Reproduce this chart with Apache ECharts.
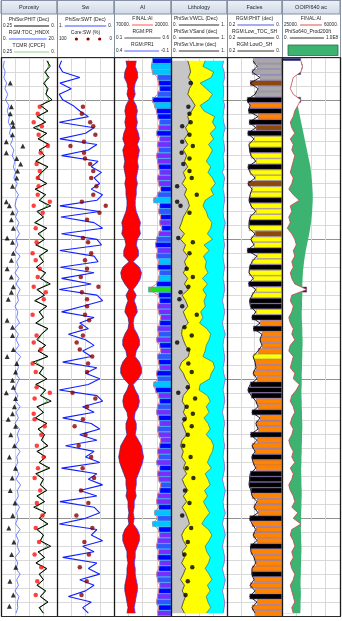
<!DOCTYPE html>
<html>
<head>
<meta charset="utf-8">
<script src="https://cdn.jsdelivr.net/npm/echarts@6/dist/echarts.min.js"></script>
<style>
html, body { margin: 0; padding: 0; background: #fff; }
#chart { width: 342px; height: 621px; }
</style>
</head>
<body>
<div id="chart"></div>
<script>
// ---- Depth sampling (ft), 2 ft steps ----
const DEPTH_TOP = 6535, DEPTH_BASE = 6735;
const depth = [
  6536,6538,6540,6542,6544,6546,6548,6550,6552,6554,
  6556,6558,6560,6562,6564,6566,6568,6570,6572,6574,
  6576,6578,6580,6582,6584,6586,6588,6590,6592,6594,
  6596,6598,6600,6602,6604,6606,6608,6610,6612,6614,
  6616,6618,6620,6622,6624,6626,6628,6630,6632,6634,
  6636,6638,6640,6642,6644,6646,6648,6650,6652,6654,
  6656,6658,6660,6662,6664,6666,6668,6670,6672,6674,
  6676,6678,6680,6682,6684,6686,6688,6690,6692,6694,
  6696,6698,6700,6702,6704,6706,6708,6710,6712,6714,
  6716,6718,6720,6722,6724,6726,6728,6730,6732,6734
];

const trackTitles = ['Porosity', 'Sw', 'AI', 'Lithology', 'Facies', 'OOIP/640 ac'];

// ---- Porosity track ----
const phit = [
  .045,.030,.055,.035,.060,.040,.050,.022,.075,.040,
  .090,.050,.105,.045,.085,.035,.080,.055,.095,.040,
  .070,.090,.045,.098,.050,.080,.028,.090,.060,.100,
  .045,.085,.055,.095,.040,.080,.060,.092,.050,.075,
  .030,.090,.055,.100,.045,.080,.060,.095,.040,.070,
  .090,.050,.085,.040,.108,.060,.080,.045,.095,.050,
  .075,.026,.090,.060,.097,.045,.085,.055,.070,.040,
  .090,.050,.080,.032,.095,.060,.075,.045,.090,.055,
  .104,.050,.080,.040,.090,.060,.075,.028,.085,.055,
  .094,.045,.080,.060,.090,.050,.075,.040,.080,.060
];
const tcmr = [
  .040,.038,.050,.042,.055,.045,.048,.036,.068,.046,
  .082,.055,.092,.050,.078,.042,.072,.058,.088,.046,
  .066,.084,.050,.092,.056,.074,.042,.084,.062,.094,
  .050,.078,.058,.088,.046,.074,.062,.092,.054,.070,
  .042,.084,.058,.094,.050,.076,.062,.088,.046,.068,
  .084,.054,.080,.046,.094,.062,.076,.050,.088,.054,
  .070,.042,.084,.062,.094,.050,.080,.058,.068,.046,
  .084,.054,.076,.042,.088,.062,.072,.050,.084,.058,
  .094,.054,.076,.046,.084,.062,.072,.042,.080,.058,
  .094,.050,.076,.062,.084,.054,.072,.046,.076,.062
];
const toc = [
  1.2,0.8,1.5,1.0,2.0,1.4,2.4,1.6,2.8,2.2,
  3.0,2.6,3.6,3.0,4.2,3.4,4.6,4.0,5.0,4.4,
  5.2,4.6,5.8,5.0,6.2,5.4,5.0,6.0,5.2,6.4,
  5.6,6.6,5.4,6.0,5.0,6.8,5.6,6.2,5.0,6.4,
  5.4,6.8,5.8,6.2,5.0,6.0,5.6,6.6,4.8,6.2,
  5.4,6.4,5.0,7.0,5.8,6.2,5.2,6.6,5.6,4.8,
  6.0,5.2,6.8,5.4,6.2,5.0,6.6,5.8,6.4,5.2,
  6.8,5.6,6.0,5.0,6.4,5.4,7.0,5.8,6.2,5.2,
  6.6,5.6,6.0,5.2,6.8,5.4,6.2,5.8,6.6,5.0,
  6.0,5.4,6.8,5.6,6.2,5.0,6.4,5.8,6.0,5.4
];

// ---- Sw track ----
const swt = [
  0.92,0.96,0.90,0.60,0.95,0.75,0.96,0.90,0.72,0.60,
  0.45,0.96,0.35,0.50,0.95,0.30,0.45,0.92,0.28,0.40,
  0.22,0.35,0.25,0.40,0.20,0.30,0.95,0.25,0.93,0.35,
  0.20,0.92,0.30,0.22,0.95,0.35,0.28,0.94,0.35,0.92,
  0.40,0.96,0.30,0.20,0.55,0.92,0.35,0.60,0.45,0.80,
  0.50,0.35,0.55,0.40,0.90,0.30,0.50,0.25,0.45,0.96,
  0.30,0.20,0.55,0.35,0.90,0.40,0.25,0.60,0.30,0.85,
  0.35,0.50,0.25,0.92,0.30,0.45,0.20,0.60,0.30,0.95,
  0.35,0.25,0.50,0.96,0.30,0.40,0.20,0.55,0.35,0.90,
  0.30,0.45,0.25,0.60,0.35,0.50,0.80,0.40,0.55,0.45
];

// ---- AI track ----
const ai = [
  36400,37300,36400,31800,30900,30000,31800,36400,34550,32700,
  31800,30000,30900,32700,30000,31800,30900,32700,31800,30900,
  30000,31800,30900,29100,31800,35450,30000,30900,29100,30000,
  28200,30900,32700,33650,31800,32700,30900,31800,30000,30900,
  32700,40000,30900,30000,31800,30900,29100,30000,31800,30900,
  32700,30000,29100,31800,30900,30000,32700,31800,35450,33650,
  30900,30000,31800,32700,30900,30000,31800,30900,29100,30000,
  31800,30900,32700,30000,31800,30900,29100,30000,31800,32700,
  30900,34550,31800,36400,30900,30000,31800,32700,30900,31800,
  30000,30900,32700,31800,30000,30900,31800,32700,30900,31800
];
const pr = [
  .205,.214,.195,.191,.214,.223,.214,.232,.205,.195,
  .205,.195,.205,.186,.177,.195,.177,.186,.195,.186,
  .195,.205,.195,.205,.205,.214,.214,.205,.186,.168,
  .177,.168,.195,.205,.186,.186,.232,.177,.159,.168,
  .195,.232,.205,.223,.205,.195,.223,.232,.223,.195,
  .177,.177,.205,.214,.177,.159,.159,.186,.232,.214,
  .186,.177,.186,.214,.223,.205,.205,.214,.186,.159,
  .150,.141,.150,.168,.186,.205,.205,.214,.205,.223,
  .223,.232,.223,.232,.195,.177,.177,.195,.214,.214,
  .223,.214,.214,.205,.195,.195,.205,.214,.223,.214
];
// elastic zone class per sample: 0 blue, 1 royal, 2 violet, 3 cyan, 4 green
const aiZone = [
  0,3,3,1,0,0,1,0,3,0,
  0,1,2,0,2,2,1,2,2,0,
  2,2,2,0,1,3,0,1,0,2,
  0,2,1,0,2,1,3,0,1,3,
  0,4,0,0,2,2,2,0,2,1,
  2,0,2,1,0,2,0,1,3,0,
  2,0,1,2,0,2,1,2,2,0,
  2,1,2,0,2,2,1,0,2,2,
  0,3,1,3,0,2,2,1,2,0,
  2,0,2,1,2,0,2,1,0,2
];

// ---- Lithology track (volume fractions) ----
const vwcl = [
  .30,.33,.35,.31,.39,.33,.30,.37,.43,.37,
  .30,.33,.26,.31,.24,.30,.22,.28,.24,.30,
  .22,.26,.20,.28,.24,.30,.33,.28,.22,.19,
  .15,.24,.17,.26,.22,.30,.24,.28,.22,.30,
  .24,.31,.20,.26,.30,.22,.26,.31,.20,.19,
  .22,.26,.33,.31,.19,.15,.22,.26,.33,.30,
  .22,.20,.26,.22,.28,.20,.24,.28,.20,.17,
  .22,.19,.26,.22,.28,.20,.24,.30,.22,.28,
  .20,.26,.30,.33,.24,.19,.22,.28,.20,.24,
  .19,.26,.22,.17,.24,.20,.26,.22,.19,.24
];
const vsand = [
  .31,.24,.41,.41,.13,.30,.44,.30,.09,.22,
  .48,.41,.54,.39,.52,.37,.52,.41,.39,.41,
  .44,.48,.59,.43,.52,.31,.24,.35,.44,.54,
  .56,.41,.57,.33,.46,.28,.39,.33,.44,.26,
  .41,.26,.43,.33,.31,.31,.31,.20,.44,.52,
  .46,.37,.28,.26,.56,.63,.50,.43,.19,.20,
  .43,.50,.37,.46,.31,.46,.46,.35,.52,.59,
  .52,.50,.39,.50,.33,.46,.46,.30,.43,.30,
  .43,.43,.31,.22,.43,.54,.46,.33,.44,.46,
  .48,.35,.46,.56,.41,.50,.37,.44,.52,.39
];
const vlime = [
  .33,.35,.19,.24,.41,.31,.20,.26,.44,.35,
  .15,.20,.17,.24,.17,.28,.22,.24,.31,.24,
  .26,.22,.15,.22,.19,.35,.37,.30,.28,.24,
  .24,.28,.20,.37,.26,.35,.31,.35,.28,.37,
  .30,.39,.31,.33,.33,.43,.37,.41,.30,.26,
  .26,.30,.33,.39,.20,.15,.22,.28,.43,.43,
  .30,.26,.31,.24,.35,.30,.24,.30,.22,.20,
  .20,.24,.30,.24,.33,.26,.24,.37,.30,.35,
  .31,.28,.33,.37,.28,.24,.26,.31,.30,.26,
  .28,.31,.26,.24,.30,.22,.31,.30,.24,.30
];

// ---- Facies track ----
const phitF = [
  .105,.091,.109,.080,.116,.087,.098,.127,.116,.122,
  .087,.120,.095,.125,.102,.120,.118,.113,.095,.124,
  .116,.098,.124,.109,.116,.120,.113,.095,.116,.120,
  .120,.098,.113,.102,.127,.091,.109,.118,.120,.105,
  .122,.095,.109,.118,.115,.095,.110,.080,.105,.073,
  .080,.073,.087,.105,.098,.095,.105,.091,.116,.124,
  .112,.095,.087,.110,.080,.095,.087,.115,.091,.109,
  .098,.110,.105,.095,.116,.118,.120,.113,.109,.091,
  .102,.087,.118,.109,.095,.105,.091,.115,.113,.102,
  .095,.109,.110,.102,.116,.098,.118,.091,.109,.098
];
// facies code: 0 shale (black), 1 tight (grey), 2 silty (brown), 3 organic sand (orange), 4 clean sand (yellow)
const facies = [
  1,1,1,1,2,1,1,0,3,0,
  3,0,2,0,4,4,0,4,4,0,
  4,4,2,4,4,0,4,4,4,0,
  4,2,4,4,0,4,4,0,4,4,
  0,4,4,0,0,4,0,3,0,3,
  3,3,3,4,3,3,3,3,0,0,
  0,3,3,0,3,3,3,0,3,3,
  3,0,3,3,0,0,0,0,3,3,
  3,3,0,3,3,3,3,0,3,3,
  3,3,0,3,3,3,0,3,3,3
];

// ---- OOIP track ----
const prod = [
  5e6,5e6,5e6,5e6,5e6,5e6,5e6,2.4e7,2.7e7,2.9e7,
  3.1e7,3.3e7,3.5e7,3.7e7,3.9e7,4.1e7,4.3e7,4.5e7,4.7e7,4.9e7,
  5.0e7,5.1e7,5.2e7,5.25e7,5.3e7,5.3e7,5.25e7,5.2e7,5.1e7,5.0e7,
  4.85e7,4.7e7,4.5e7,4.3e7,4.1e7,3.95e7,3.8e7,3.7e7,3.6e7,3.55e7,
  3.5e7,3.5e7,3.5e7,3.45e7,3.45e7,3.4e7,3.4e7,3.45e7,3.5e7,3.5e7,
  3.55e7,3.55e7,3.5e7,3.5e7,3.45e7,3.45e7,3.4e7,3.4e7,3.4e7,3.35e7,
  3.35e7,3.4e7,3.4e7,3.45e7,3.45e7,3.5e7,3.5e7,3.45e7,3.45e7,3.4e7,
  3.4e7,3.35e7,3.35e7,3.3e7,3.3e7,3.35e7,3.35e7,3.4e7,3.4e7,3.35e7,
  3.35e7,3.3e7,3.3e7,3.25e7,3.25e7,3.3e7,3.3e7,3.35e7,3.35e7,3.3e7,
  3.3e7,3.25e7,3.25e7,3.2e7,3.2e7,3.25e7,3.25e7,3.2e7,3.2e7,3.15e7
];

// ---- Core samples ----
const coreDepth = [
  6544.0,6552.5,6555.0,6558.0,6559.5,6562.5,6565.0,6566.5,6569.0,6571.0,
  6573.0,6575.5,6578.0,6581.0,6584.0,6586.5,6588.0,6590.5,6593.0,6596.0,
  6599.5,6601.0,6605.0,6607.5,6610.5,6613.5,6617.0,6619.0,6621.5,6624.0,
  6627.0,6629.0,6631.5,6634.5,6637.0,6639.5,6642.0,6644.5,6647.5,6650.5,
  6653.0,6655.0,6657.0,6660.0,6662.5,6664.5,6667.0,6670.0,6674.0,6678.0,
  6682.0,6685.5,6690.0,6694.5,6699.0,6703.5,6708.5,6713.0,6717.5,6722.5,
  6727.5,6731.5
];
const corePhi = [
  null,.077,.086,.104,.068,.082,null,.041,.073,null,
  .091,.077,.086,.082,.086,.032,.104,.064,null,.095,
  null,.091,.109,.095,.077,.086,.104,.050,.059,null,
  .109,null,null,.091,.104,.073,null,.109,.095,null,
  .091,.032,.100,null,.104,.100,.055,.070,.090,.060,
  .085,.100,.075,.090,.065,.095,.080,.100,.070,.088,
  .095,null
];
const coreToc = [
  3.3,3.7,3.3,4.1,4.4,4.1,1.9,7.8,1.9,5.6,
  7.0,5.9,5.6,4.1,null,1.9,3.0,4.1,3.7,4.4,
  2.2,4.1,4.4,3.7,2.2,3.7,4.4,3.7,2.6,null,
  null,2.2,4.1,4.1,null,4.4,2.2,5.6,5.2,4.1,
  4.4,1.9,5.2,4.8,4.1,2.6,5.2,3.5,4.8,3.0,
  5.2,4.0,3.3,5.0,4.2,2.8,4.6,3.8,5.3,3.2,
  4.4,3.0
];
const coreSw = [
  null,54.5,56.4,41.8,36.4,32.7,52.7,76.4,52.7,50.9,
  41.8,36.4,40.0,30.9,36.4,56.4,14.5,25.5,47.3,null,
  54.5,45.5,40.0,50.9,47.3,58.2,27.3,56.4,47.3,47.3,
  50.9,43.6,58.2,54.5,65.5,60.0,38.2,45.5,47.3,null,
  null,72.7,32.7,47.3,null,54.5,69.1,50,62,40,
  55,35,58,45,66,38,52,44,60,48,
  57,null
];
const coreVcl = [
  .35,.31,.33,.35,.20,.33,.20,.39,.19,.33,
  .22,.33,.37,.11,.46,.11,.17,.33,null,null,
  .13,.39,.33,null,.28,.39,.31,.17,.15,.20,
  .46,null,.24,.37,.11,.31,null,.31,.37,null,
  .30,.13,.43,.28,.39,.24,.37,.30,.22,.35,
  .28,.40,.25,.33,.20,.36,.30,.24,.38,.30,
  .26,null
];

// ---- Layout and styling ----
const TRACKS = [
  { x: 1, w: 56 }, { x: 57, w: 57 }, { x: 114, w: 57 },
  { x: 171, w: 56 }, { x: 227, w: 55 }, { x: 282, w: 58 }
];
const PLOT_TOP = 58, PLOT_H = 558;
const FONT = 'Liberation Sans';
const ZONE_COLORS = ['#0000ff', '#3355ff', '#7a2cff', '#00c4ff', '#22dd22'];
const FACIES_COLORS = ['#000000', '#a8a8a8', '#8b4a0a', '#ff8400', '#ffff00'];
const AI_NAVY_CUT = 36000;
const MINOR = '#d9d9d9', MAJOR = '#939393';

const option = {
  animation: false,
  backgroundColor: '#ffffff',
  grid: TRACKS.map(t => ({ left: t.x, top: PLOT_TOP, width: t.w, height: PLOT_H, show: false })),
  xAxis: [],
  yAxis: [],
  series: [],
  graphic: { elements: [] }
};

// y axes: a category axis for sampled curves, a depth axis for core points and grid lines
TRACKS.forEach((t, g) => {
  option.yAxis.push({
    type: 'category', gridIndex: g, data: depth, inverse: true, show: false, boundaryGap: true
  });
  option.yAxis.push({
    type: 'value', gridIndex: g, min: DEPTH_TOP, max: DEPTH_BASE, interval: 5, inverse: true,
    axisLine: { show: false }, axisTick: { show: false }, axisLabel: { show: false },
    splitLine: { show: true, lineStyle: { width: 1,
      color: [MINOR, MINOR, MINOR, MAJOR, MINOR, MINOR, MINOR, MINOR, MINOR, MINOR] } }
  });
  // vertical grid lines of the track
  option.xAxis.push({
    type: 'value', gridIndex: g, min: 0, max: 4, interval: 1,
    axisLine: { show: false }, axisTick: { show: false }, axisLabel: { show: false },
    splitLine: { show: true, lineStyle: { color: MINOR, width: 1 } }
  });
});

function addX(g, opts) {
  option.xAxis.push(Object.assign({ type: 'value', gridIndex: g, show: false }, opts));
  return option.xAxis.length - 1;
}
function curve(xi, g, data, color, width, extra) {
  option.series.push(Object.assign({
    type: 'line', xAxisIndex: xi, yAxisIndex: 2 * g, data: data, symbol: 'none', silent: true,
    lineStyle: { color: color, width: width }
  }, extra || {}));
}
function corePoints(xi, g, values, symbol, size, color) {
  const pts = [];
  coreDepth.forEach((d, k) => { if (values[k] != null) pts.push([values[k], d]); });
  option.series.push({
    type: 'scatter', xAxisIndex: xi, yAxisIndex: 2 * g + 1, data: pts, symbol: symbol,
    symbolSize: size, itemStyle: { color: color }, silent: true, z: 5
  });
}
function colourBars(xi, g, data, colorOf) {
  option.series.push({
    type: 'bar', xAxisIndex: xi, yAxisIndex: 2 * g, data: data, barCategoryGap: '0%', silent: true,
    itemStyle: { color: p => colorOf(p.dataIndex), borderColor: p => colorOf(p.dataIndex), borderWidth: 0.5 }
  });
}

// Porosity
const xPhi = addX(0, { min: 0, max: 0.25, inverse: true });
const xToc = addX(0, { min: 0, max: 20 });
curve(xToc, 0, toc, '#4a66ff', 0.8);
corePoints(xToc, 0, coreToc, 'triangle', 5, '#000000');
curve(xPhi, 0, tcmr, '#3a9a3a', 0.9);
curve(xPhi, 0, phit, '#000000', 1);
corePoints(xPhi, 0, corePhi, 'circle', 4.5, '#ff1010');

// Sw
const xSw = addX(1, { min: 0, max: 1, inverse: true });
const xCsw = addX(1, { min: 0, max: 100, inverse: true });
curve(xSw, 1, swt, '#1020ff', 1.1);
corePoints(xCsw, 1, coreSw, 'circle', 4.5, '#8b0000');

// AI
const xAi = addX(2, { min: 20000, max: 70000, inverse: true });
const xPr = addX(2, { min: 0.1, max: 0.6 });
const xPr1 = addX(2, { min: -0.1, max: 0.4, inverse: true });
colourBars(xAi, 2, ai, i => ZONE_COLORS[aiZone[i]]);
curve(xAi, 2, ai, '#ff5a5a', 0.8);
// red fill between PR and its mirrored PR1 display
curve(xPr, 2, pr, '#000', 0, { stack: 'mirror', lineStyle: { opacity: 0, width: 0 } });
curve(xPr, 2, pr.map(v => 0.5 - 2 * v), '#f00', 0,
  { stack: 'mirror', lineStyle: { opacity: 0, width: 0 }, areaStyle: { color: '#ff0000', opacity: 1 } });
curve(xPr, 2, pr, '#2a2a8a', 0.7);
curve(xPr1, 2, pr, '#3a3aff', 0.8);

// Lithology
const xL = addX(3, { min: 0, max: 1 });
curve(xL, 3, vwcl, '#000', 0, { stack: 'lith', lineStyle: { width: 0, opacity: 0 }, areaStyle: { color: '#c6c6c6', opacity: 1 } });
curve(xL, 3, vsand, '#000', 0, { stack: 'lith', lineStyle: { width: 0, opacity: 0 }, areaStyle: { color: '#ffff00', opacity: 1 } });
curve(xL, 3, vlime, '#000', 0, { stack: 'lith', lineStyle: { width: 0, opacity: 0 }, areaStyle: { color: '#00ffff', opacity: 1 } });
curve(xL, 3, vwcl, '#1a1a1a', 0.7, { stack: 'lithEdge' });
curve(xL, 3, vsand, '#1f5f55', 0.6, { stack: 'lithEdge' });
curve(xL, 3, vlime, '#b040c0', 0.7, { stack: 'lithEdge' });
corePoints(xL, 3, coreVcl, 'circle', 4.5, '#000000');

// Facies
const xF = addX(4, { min: 0, max: 0.2, inverse: true });
colourBars(xF, 4, phitF, i => FACIES_COLORS[facies[i]]);
curve(xF, 4, phitF, '#111111', 0.9);

// OOIP
const xOai = addX(5, { min: 25000, max: 60000 });
const xProd = addX(5, { min: 0, max: 1e8 });
curve(xProd, 5, prod, '#3cb371', 0, { lineStyle: { width: 0, opacity: 0 }, areaStyle: { color: '#3cb371', opacity: 1 } });
curve(xOai, 5, ai, '#fff', 0, { lineStyle: { width: 0, opacity: 0 }, areaStyle: { color: '#ffffff', opacity: 1 } });
colourBars(xOai, 5, ai.map(v => v >= AI_NAVY_CUT ? v : '-'), () => '#1c1c7a');
curve(xOai, 5, ai, '#c44848', 0.8);

// ---- Header and frame ----
const G = option.graphic.elements;
const measure = document.createElement('canvas').getContext('2d');
function textWidth(s, size) { measure.font = size + 'px "' + FONT + '"'; return measure.measureText(s).width; }
function txt(x, y, s, size, align, color) {
  G.push({ type: 'text', x: x, y: y, z: 100, silent: true,
    style: { text: s, fontSize: size, fontFamily: FONT, fill: color || '#1e1e1e', align: align, verticalAlign: 'middle' } });
}
function seg(x1, y1, x2, y2, color, w) {
  G.push({ type: 'line', z: 100, silent: true, shape: { x1: x1, y1: y1, x2: x2, y2: y2 }, style: { stroke: color, lineWidth: w } });
}

const headers = [
  [ { name: 'PhiSw:PHIT (Dec)', lo: '0.25', hi: '0.', color: '#111111', y: 20 },
    { name: 'RGM:TOC_HNDX', lo: '0.', hi: '20.', color: '#4a66ff', y: 33 },
    { name: 'TCMR (CPCF)', lo: '0.25', hi: '0.', color: '#8fd08f', y: 46 } ],
  [ { name: 'PhiSw:SWT (Dec)', lo: '1.', hi: '0.', color: '#3f4fff', y: 20 },
    { name: 'Core:SW (%)', lo: '100', hi: '0', dots: '#8b0000', y: 33 } ],
  [ { name: 'FINAL:AI', lo: '70000.', hi: '20000.', color: '#ff7070', y: 19 },
    { name: 'RGM:PR', lo: '0.1', hi: '0.6', color: '#555555', y: 32 },
    { name: 'RGM:PR1', lo: '0.4', hi: '-0.1', color: '#5a5aff', y: 45 } ],
  [ { name: 'PhiSw:VWCL (Dec)', lo: '0.', hi: '1.', color: '#333333', y: 19, left: true },
    { name: 'PhiSw:VSand (dec)', lo: '0.', hi: '1.', color: '#333333', y: 32, left: true },
    { name: 'PhiSw:VLime (dec)', lo: '0.', hi: '1.', color: '#333333', y: 45, left: true } ],
  [ { name: 'RGM:PHIT (dec)', lo: '0.2', hi: '0.', color: '#4a5ad8', y: 19 },
    { name: 'RGM:Low_TOC_SH', lo: '0.2', hi: '0.', color: '#333333', y: 32 },
    { name: 'RGM:LowO_SH', lo: '0.2', hi: '0.', color: '#333333', y: 45 } ],
  [ { name: 'FINAL:AI', lo: '25000.', hi: '60000.', color: '#e07070', y: 19 },
    { name: 'PhiSo640_Prod200ft', lo: '0.', hi: '1.0E8', color: '#333333', y: 32, left: true },
    { box: '#3cb371', y: 45 } ]
];

const NAME_SIZE = 5, SCALE_SIZE = 4.6;
TRACKS.forEach((t, k) => {
  G.push({ type: 'rect', z: 99, silent: true, shape: { x: t.x, y: 0.5, width: t.w, height: 13.5 },
    style: { fill: new echarts.graphic.LinearGradient(0, 0, 0, 1, [
      { offset: 0, color: '#eef2f8' }, { offset: 1, color: '#cfd8e5' }]), stroke: '#8591a4', lineWidth: 1 } });
  txt(t.x + t.w / 2, 7.5, trackTitles[k], 5.5, 'center', '#1b2638');
  headers[k].forEach(h => {
    if (h.box) {
      G.push({ type: 'rect', z: 100, silent: true, shape: { x: t.x + 6, y: h.y, width: t.w - 8, height: 10.5 },
        style: { fill: h.box, stroke: '#2d6b45', lineWidth: 0.8 } });
      return;
    }
    if (h.left) txt(t.x + 3, h.y, h.name, NAME_SIZE, 'left');
    else txt(t.x + t.w / 2, h.y, h.name, NAME_SIZE, 'center');
    const sy = h.y + 6;
    const x0 = t.x + 2, x1 = t.x + t.w - 2;
    txt(x0, sy, h.lo, SCALE_SIZE, 'left');
    txt(x1, sy, h.hi, SCALE_SIZE, 'right');
    const a = x0 + textWidth(h.lo, SCALE_SIZE) + 2, b = x1 - textWidth(h.hi, SCALE_SIZE) - 2;
    if (h.dots) {
      [0.2, 0.5, 0.8].forEach(f => G.push({ type: 'circle', z: 100, silent: true,
        shape: { cx: a + (b - a) * f, cy: sy, r: 1.6 }, style: { fill: h.dots } }));
    } else {
      seg(a, sy, b, sy, h.color, 1.2);
    }
  });
});

// frame lines
const edges = [1, 57, 114, 171, 227, 282, 340];
edges.forEach(x => {
  seg(x + 0.5, 0, x + 0.5, 57.5, '#8591a4', 1);
  seg(x + 0.5, 57.5, x + 0.5, 616.5, '#1a1a1a', 1.3);
});
seg(1, 57.5, 341, 57.5, '#2a2a2a', 1);
seg(1, 616.5, 341, 616.5, '#2a2a2a', 1);

const chart = echarts.init(document.getElementById('chart'), null, { renderer: 'canvas' });
chart.setOption(option);
</script>
</body>
</html>
